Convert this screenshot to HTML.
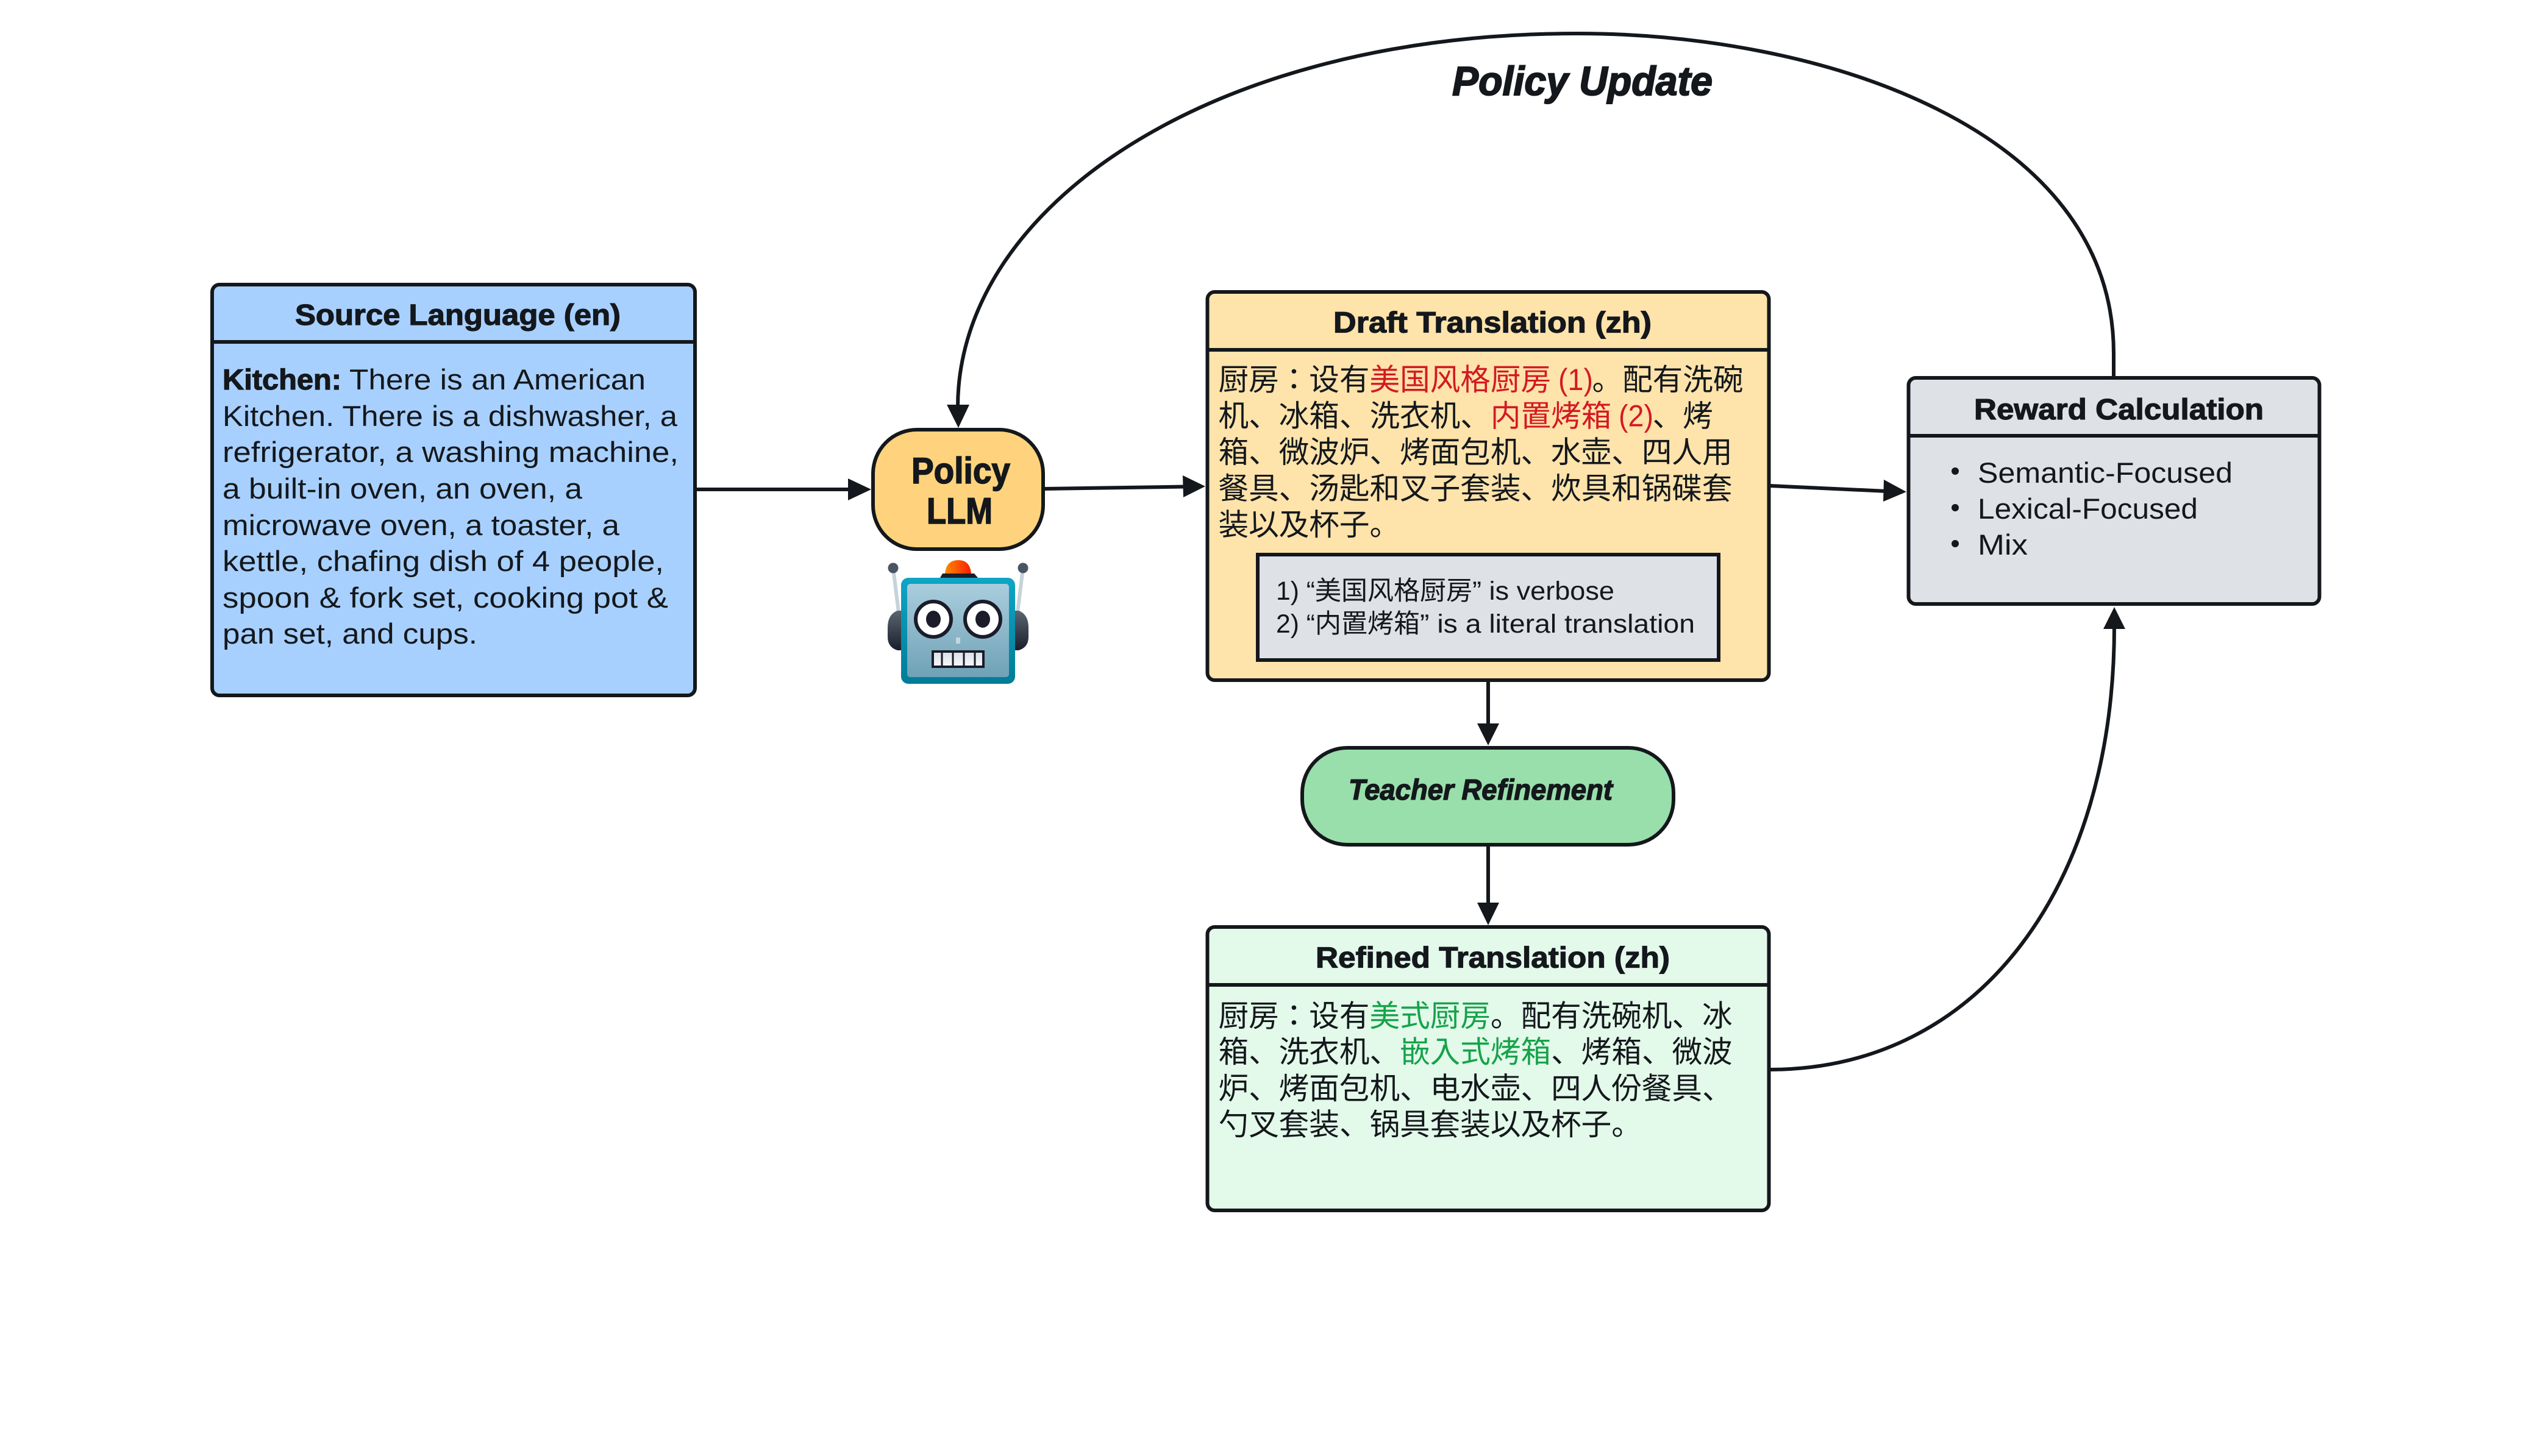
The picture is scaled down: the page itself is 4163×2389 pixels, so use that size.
<!DOCTYPE html>
<html><head><meta charset="utf-8"><title>Policy LLM diagram</title>
<style>
html,body{margin:0;padding:0;background:#fff;width:4163px;height:2389px;overflow:hidden}
svg{display:block}
text{font-family:"Liberation Sans","Noto Sans CJK JP",sans-serif;fill:#14181c;white-space:pre}
.b{font-size:47px}
.t{font-size:48px;font-weight:700;stroke:#14181c;stroke-width:1.2px}
.p{font-size:50px}
.c{font-family:"Noto Sans CJK JP","Liberation Sans",sans-serif;font-size:49.6px}
.n{font-family:"Noto Sans CJK JP","Liberation Sans",sans-serif;font-size:43px}
.s{font-size:43px}
.l{stroke:#14181c;stroke-width:6;fill:none}
.box{stroke:#14181c;stroke-width:6}
.red{fill:#d31a23}
.grn{fill:#16a34a}
</style></head><body>
<svg xmlns="http://www.w3.org/2000/svg" width="4163" height="2389" viewBox="0 0 4163 2389">
<defs>
<linearGradient id="fr" x1="0" y1="0" x2="0" y2="1"><stop offset="0" stop-color="#0fa5c6"/><stop offset="1" stop-color="#007c97"/></linearGradient>
<linearGradient id="fa" x1="0" y1="0" x2="0" y2="1"><stop offset="0" stop-color="#aacddd"/><stop offset="1" stop-color="#6fa2b6"/></linearGradient>
<linearGradient id="er" x1="0" y1="0" x2="0" y2="1"><stop offset="0" stop-color="#5a6670"/><stop offset="1" stop-color="#1b1e2c"/></linearGradient>
<linearGradient id="li" x1="0" y1="0" x2="1" y2="0"><stop offset="0" stop-color="#ff8a00"/><stop offset="1" stop-color="#f81c06"/></linearGradient>
<linearGradient id="mo" x1="0" y1="0" x2="0" y2="1"><stop offset="0" stop-color="#d9dfe5"/><stop offset="1" stop-color="#f8f9fa"/></linearGradient>
</defs>

<!-- connectors -->
<path class="l" d="M3467 620 L3467 580 C3467 210 2987 55 2587 55 C1987 55 1571 338 1571 668"/>
<polygon fill="#14181c" points="1553,664 1590,664 1572,702"/>
<path class="l" d="M1142 803 L1395 803"/>
<polygon fill="#14181c" points="1391,785 1429,803 1391,821"/>
<path class="l" d="M1713 802 L1945 798.5"/>
<polygon fill="#14181c" points="1940,780 1977,798 1941,816"/>
<path class="l" d="M2902 797 L3095 806"/>
<polygon fill="#14181c" points="3090,787 3127,807 3089,823"/>
<path class="l" d="M2441 1118 L2441 1190"/>
<polygon fill="#14181c" points="2423,1187 2459,1187 2441,1223"/>
<path class="l" d="M2441 1387 L2441 1485"/>
<polygon fill="#14181c" points="2423,1481 2459,1481 2441,1518"/>
<path class="l" d="M2902 1755 C3250 1755 3468 1450 3468 1028"/>
<polygon fill="#14181c" points="3450,1032 3486,1032 3468,996"/>

<!-- Source box -->
<rect class="box" x="348" y="467" width="792" height="674" rx="12" fill="#a8d0ff"/>
<path class="l" d="M348 561 H1140"/>
<text class="t" x="484" y="533" textLength="534" lengthAdjust="spacingAndGlyphs">Source Language (en)</text>
<text class="b" x="365" y="639" font-weight="700" stroke="#14181c" stroke-width="1.2" textLength="195" lengthAdjust="spacingAndGlyphs">Kitchen:</text>
<text class="b" x="573" y="639" textLength="486" lengthAdjust="spacingAndGlyphs">There is an American</text>
<text class="b" x="365" y="699" textLength="746" lengthAdjust="spacingAndGlyphs">Kitchen. There is a dishwasher, a</text>
<text class="b" x="365" y="758" textLength="748" lengthAdjust="spacingAndGlyphs">refrigerator, a washing machine,</text>
<text class="b" x="365" y="818" textLength="590" lengthAdjust="spacingAndGlyphs">a built-in oven, an oven, a</text>
<text class="b" x="365" y="878" textLength="651" lengthAdjust="spacingAndGlyphs">microwave oven, a toaster, a</text>
<text class="b" x="365" y="937" textLength="724" lengthAdjust="spacingAndGlyphs">kettle, chafing dish of 4 people,</text>
<text class="b" x="365" y="997" textLength="731" lengthAdjust="spacingAndGlyphs">spoon &amp; fork set, cooking pot &amp;</text>
<text class="b" x="365" y="1056" textLength="418" lengthAdjust="spacingAndGlyphs">pan set, and cups.</text>

<!-- Policy LLM -->
<rect class="box" x="1432" y="705" width="279" height="196" rx="72" fill="#ffd37d"/>
<text x="1495" y="793" font-size="60" font-weight="700" stroke="#14181c" stroke-width="1.6" textLength="162" lengthAdjust="spacingAndGlyphs">Policy</text>
<text x="1520" y="859" font-size="60" font-weight="700" stroke="#14181c" stroke-width="1.6" textLength="108" lengthAdjust="spacingAndGlyphs">LLM</text>

<!-- Robot -->
<g>
<path d="M1465 932 L1474 1005" stroke="#c5d3da" stroke-width="6"/>
<path d="M1678 932 L1669 1005" stroke="#c5d3da" stroke-width="6"/>
<circle cx="1465" cy="932" r="8.5" fill="#4a5563"/>
<circle cx="1678" cy="932" r="8.5" fill="#4a5563"/>
<path d="M1478 1002 H1472 Q1456 1008 1456 1030 V1045 Q1456 1062 1472 1067 H1478 Z" fill="url(#er)"/>
<path d="M1665 1002 H1671 Q1687 1008 1687 1030 V1045 Q1687 1062 1671 1067 H1665 Z" fill="url(#er)"/>
<path d="M1550 941 Q1552 919 1572 919 Q1591 919 1593 941 Z" fill="url(#li)"/>
<path d="M1542 948 L1546 941 H1598 L1604 948 Z" fill="#1b1e2c"/>
<rect x="1478" y="948" width="187" height="174" rx="12" fill="url(#fr)"/>
<rect x="1488" y="958" width="167" height="153" rx="5" fill="url(#fa)"/>
<circle cx="1531" cy="1016" r="29" fill="#fff" stroke="#1b1b2a" stroke-width="6"/>
<circle cx="1612" cy="1016" r="29" fill="#fff" stroke="#1b1b2a" stroke-width="6"/>
<ellipse cx="1531" cy="1016" rx="12" ry="14" fill="#1b1b2a"/>
<ellipse cx="1612" cy="1016" rx="12" ry="14" fill="#1b1b2a"/>
<rect x="1568" y="1046" width="7" height="10" fill="#c3d6df"/>
<rect x="1530" y="1069" width="83" height="25" fill="url(#mo)" stroke="#1b1b2a" stroke-width="4"/>
<path d="M1545 1069 V1094 M1563 1069 V1094 M1581 1069 V1094 M1599 1069 V1094" stroke="#1b1b2a" stroke-width="3"/>
</g>

<!-- Draft box -->
<rect class="box" x="1980.5" y="479" width="921" height="637" rx="12" fill="#fee3ab"/>
<path class="l" d="M1980.5 574 H2901.5"/>
<text class="t" x="2187" y="545.5" textLength="522" lengthAdjust="spacingAndGlyphs">Draft Translation (zh)</text>
<text class="c" x="1998.5" y="640">厨房：设有</text><text class="c red" x="2246.5" y="640">美国风格厨房</text><text class="p red" x="2556" y="640" textLength="57" lengthAdjust="spacingAndGlyphs">(1)</text><text class="c" x="2611.5" y="640">。配有洗碗</text>
<text class="c" x="1998.5" y="699.5">机、冰箱、洗衣机、</text><text class="c red" x="2444.9" y="699.5">内置烤箱</text><text class="p red" x="2655" y="699.5" textLength="57" lengthAdjust="spacingAndGlyphs">(2)</text><text class="c" x="2710.5" y="699.5">、烤</text>
<text class="c" x="1998.5" y="759">箱、微波炉、烤面包机、水壶、四人用</text>
<text class="c" x="1998.5" y="818.5">餐具、汤匙和叉子套装、炊具和锅碟套</text>
<text class="c" x="1998.5" y="878">装以及杯子。</text>
<rect class="box" x="2063" y="910" width="756" height="173" fill="#dee2e6"/>
<text class="s" x="2093" y="984" textLength="64" lengthAdjust="spacingAndGlyphs">1) “</text><text class="n" x="2157" y="984">美国风格厨房</text><text class="s" x="2415" y="984" textLength="233" lengthAdjust="spacingAndGlyphs">” is verbose</text>
<text class="s" x="2093" y="1038" textLength="64" lengthAdjust="spacingAndGlyphs">2) “</text><text class="n" x="2157" y="1038">内置烤箱</text><text class="s" x="2329" y="1038" textLength="451" lengthAdjust="spacingAndGlyphs">” is a literal translation</text>

<!-- Teacher -->
<rect class="box" x="2136" y="1227" width="609" height="159" rx="74" fill="#99dfab"/>
<text x="2212" y="1312" font-size="47" font-weight="700" font-style="italic" stroke="#14181c" stroke-width="1.4" textLength="433" lengthAdjust="spacingAndGlyphs">Teacher Refinement</text>

<!-- Refined box -->
<rect class="box" x="1980.5" y="1521" width="921" height="465" rx="12" fill="#e3f9ea"/>
<path class="l" d="M1980.5 1616 H2901.5"/>
<text class="t" x="2158" y="1587.5" textLength="581" lengthAdjust="spacingAndGlyphs">Refined Translation (zh)</text>
<text class="c" x="1998.5" y="1684">厨房：设有</text><text class="c grn" x="2246.5" y="1684">美式厨房</text><text class="c" x="2444.9" y="1684">。配有洗碗机、冰</text>
<text class="c" x="1998.5" y="1743">箱、洗衣机、</text><text class="c grn" x="2296.1" y="1743">嵌入式烤箱</text><text class="c" x="2544.1" y="1743">、烤箱、微波</text>
<text class="c" x="1998.5" y="1803">炉、烤面包机、电水壶、四人份餐具、</text>
<text class="c" x="1998.5" y="1862">勺叉套装、锅具套装以及杯子。</text>

<!-- Reward box -->
<rect class="box" x="3130.5" y="620" width="674" height="371" rx="12" fill="#dee2e6"/>
<path class="l" d="M3130.5 715 H3804.5"/>
<text class="t" x="3238" y="688" textLength="475" lengthAdjust="spacingAndGlyphs">Reward Calculation</text>
<circle cx="3207" cy="773" r="6" fill="#14181c"/>
<circle cx="3207" cy="833" r="6" fill="#14181c"/>
<circle cx="3207" cy="892" r="6" fill="#14181c"/>
<text class="b" x="3244" y="792" textLength="418" lengthAdjust="spacingAndGlyphs">Semantic-Focused</text>
<text class="b" x="3244" y="851" textLength="361" lengthAdjust="spacingAndGlyphs">Lexical-Focused</text>
<text class="b" x="3244" y="910" textLength="82" lengthAdjust="spacingAndGlyphs">Mix</text>

<!-- Policy update label -->
<text x="2382" y="156" font-size="67" font-weight="700" font-style="italic" stroke="#14181c" stroke-width="2" textLength="427" lengthAdjust="spacingAndGlyphs">Policy Update</text>
</svg>
</body></html>
